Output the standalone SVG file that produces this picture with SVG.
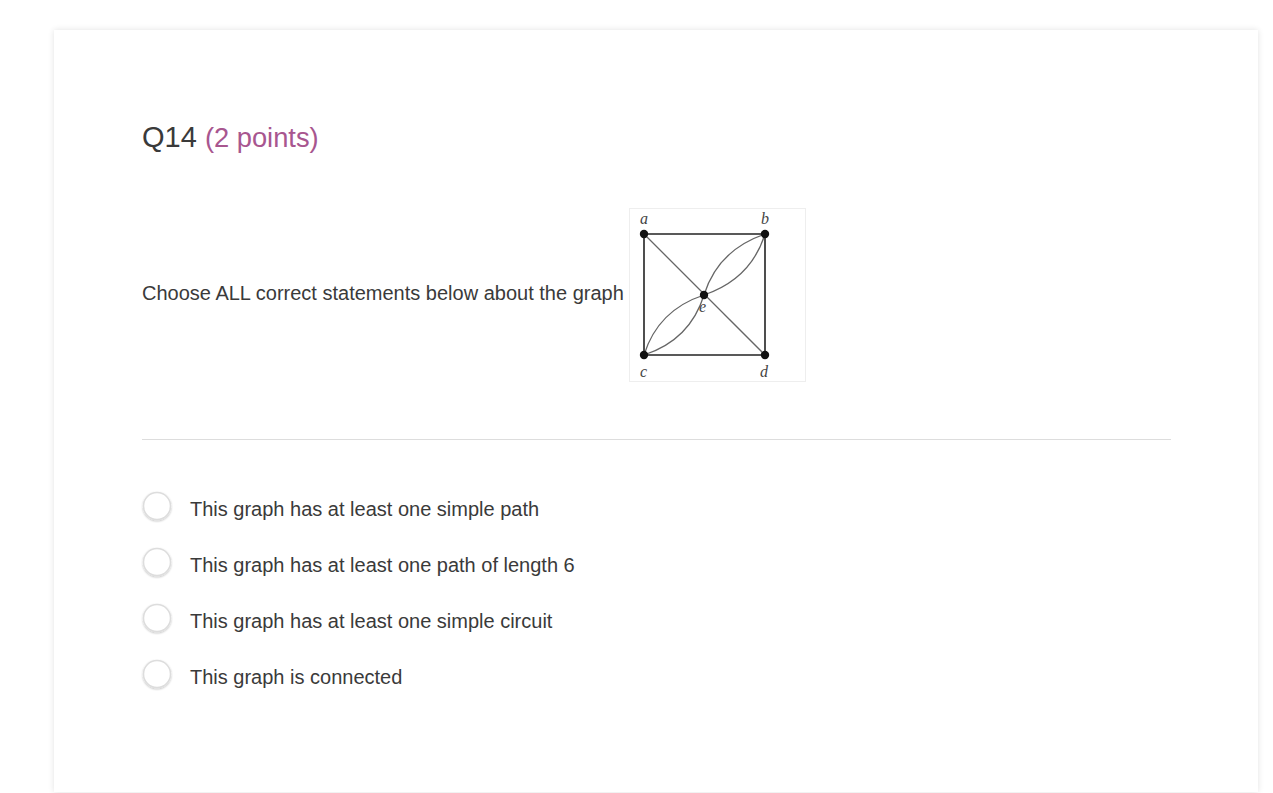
<svg xmlns="http://www.w3.org/2000/svg" width="1273" height="793" viewBox="0 0 1273 793">
<defs>
<filter id="sh" x="-5%" y="-5%" width="110%" height="110%">
<feGaussianBlur in="SourceAlpha" stdDeviation="3"/>
<feComponentTransfer><feFuncA type="linear" slope="0.12"/></feComponentTransfer>
<feMerge><feMergeNode/><feMergeNode in="SourceGraphic"/></feMerge>
</filter>
<filter id="rs" x="-30%" y="-30%" width="160%" height="160%">
<feGaussianBlur in="SourceAlpha" stdDeviation="1.2"/>
<feOffset dy="1"/>
<feComponentTransfer><feFuncA type="linear" slope="0.25"/></feComponentTransfer>
<feMerge><feMergeNode/><feMergeNode in="SourceGraphic"/></feMerge>
</filter>
</defs>
<style>
.t{font-family:"Liberation Sans",Arial,sans-serif;fill:#3a3a3a}
.opt{font-size:20px}
.lbl{font-family:"Liberation Serif","Times New Roman",serif;font-style:italic;font-size:16px;fill:#444}
.edge{stroke:#222;stroke-width:1.6;fill:none}
.curve{stroke:#666;stroke-width:1.3;fill:none}
.v{fill:#111}
.radio{fill:#fff;stroke:#ddd;stroke-width:1.5}
</style>
<rect width="1273" height="793" fill="#fff"/>
<rect x="54" y="30" width="1204" height="762" fill="#fff" filter="url(#sh)"/>
<g id="title">
<text class="t" x="142" y="147" font-size="29">Q14 <tspan fill="#a8568f" font-size="27.3">(2 points)</tspan></text>
</g>
<g id="question">
<text class="t" x="142" y="300" font-size="20">Choose ALL correct statements below about the graph</text>
</g>
<g id="graph-image">
<rect x="629.5" y="208.5" width="176" height="173" fill="#fff" stroke="#eee"/>
<g id="connectors">
<line class="edge" x1="644" y1="234" x2="765" y2="234"/>
<line class="edge" x1="644" y1="234" x2="644" y2="355"/>
<line class="edge" x1="765" y1="234" x2="765" y2="355"/>
<line class="edge" x1="644" y1="355" x2="765" y2="355"/>
<line class="curve" x1="644" y1="234" x2="765" y2="355"/>
<path class="curve" d="M704,295 Q718,250 765,234"/>
<path class="curve" d="M704,295 Q751,279 765,234"/>
<path class="curve" d="M704,295 Q658,310 644,355"/>
<path class="curve" d="M704,295 Q690,340 644,355"/>
</g>
<g id="node-a"><circle class="v" cx="644" cy="234" r="4.2"/><text class="lbl" x="640" y="224">a</text></g>
<g id="node-b"><circle class="v" cx="765" cy="234" r="4.2"/><text class="lbl" x="761" y="224">b</text></g>
<g id="node-c"><circle class="v" cx="644" cy="355" r="4.2"/><text class="lbl" x="640" y="377">c</text></g>
<g id="node-d"><circle class="v" cx="765" cy="355" r="4.2"/><text class="lbl" x="760" y="377">d</text></g>
<g id="node-e"><circle class="v" cx="704" cy="295" r="4.2"/><text class="lbl" x="699" y="312">e</text></g>
</g>
<line x1="142" y1="439.5" x2="1171" y2="439.5" stroke="#ddd" stroke-width="1"/>
<g id="option-1"><circle class="radio" cx="157" cy="506" r="13.5" filter="url(#rs)"/><text class="t opt" x="190" y="516">This graph has at least one simple path</text></g>
<g id="option-2"><circle class="radio" cx="157" cy="562" r="13.5" filter="url(#rs)"/><text class="t opt" x="190" y="572">This graph has at least one path of length 6</text></g>
<g id="option-3"><circle class="radio" cx="157" cy="618" r="13.5" filter="url(#rs)"/><text class="t opt" x="190" y="628">This graph has at least one simple circuit</text></g>
<g id="option-4"><circle class="radio" cx="157" cy="674" r="13.5" filter="url(#rs)"/><text class="t opt" x="190" y="684">This graph is connected</text></g>
</svg>
